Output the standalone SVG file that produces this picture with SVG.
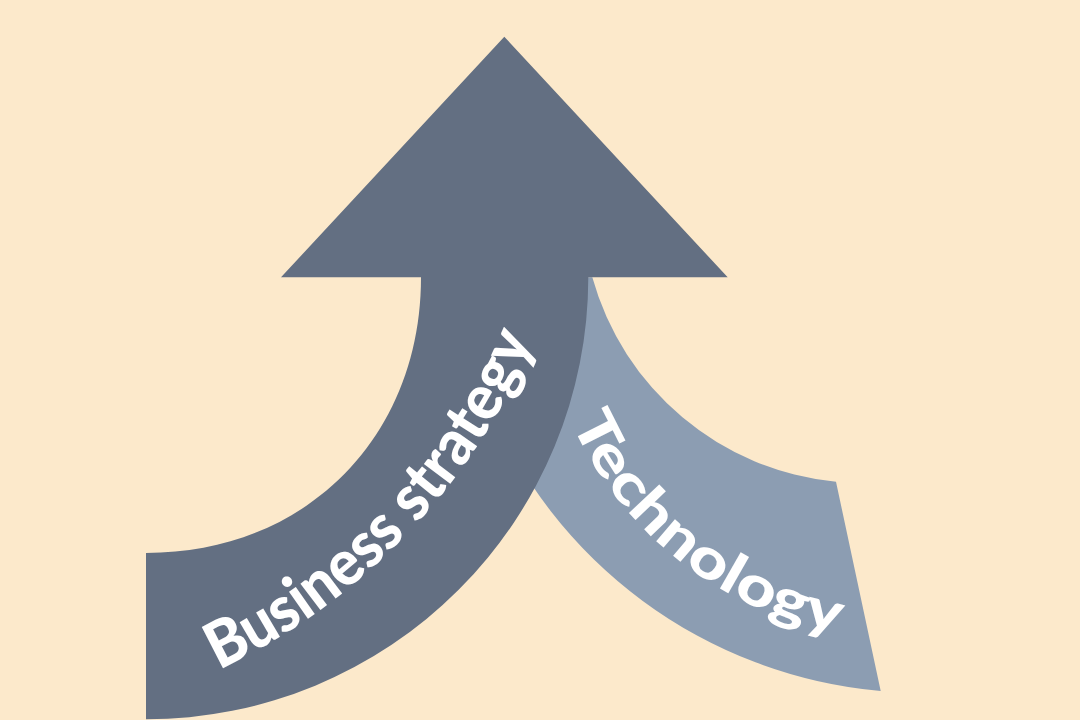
<svg xmlns="http://www.w3.org/2000/svg" width="1080" height="720" viewBox="0 0 1080 720">
  <defs>
    <style>
      .bg { fill: #FCE9CB; }
      .dark { fill: #636F82; }
      .light { fill: #8C9DB2; }
      .lbl { fill: #FFFFFF; font-family: Lato, "Open Sans", "Liberation Sans", sans-serif; font-weight: 900; }
    </style>
    <path id="pBiz" d="M 219 670 A 640 640 0 0 0 562 258"/>
    <path id="pTech" d="M 571 422 A 368 368 0 0 0 875 638"/>
  </defs>
  <rect class="bg" x="0" y="0" width="1080" height="720"/>
  <g id="technology">
    <path class="light" d="M 560 277.3 L 592.3 277.3 A 281 281 0 0 0 836 481.7 L 880.7 691 A 470 470 0 0 1 486.6 400 Z"/>
    <text class="lbl" font-size="56"><textPath href="#pTech" textLength="354" lengthAdjust="spacingAndGlyphs">Technology</textPath></text>
  </g>
  <g id="business-strategy">
    <path class="dark" d="M 281 277.3 L 504.3 36.7 L 727.7 277.3 L 588.3 277.3 A 442.3 442.3 0 0 1 146 719.3 L 146 720 L 146 553 C 306 553 421 437 421 277.3 Z"/>
    <text class="lbl" font-size="64"><textPath href="#pBiz" textLength="466" lengthAdjust="spacingAndGlyphs">Business strategy</textPath></text>
  </g>
</svg>
